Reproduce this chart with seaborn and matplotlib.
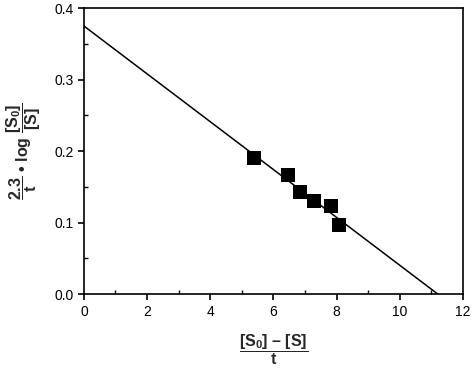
import matplotlib
matplotlib.use("Agg")
import matplotlib.pyplot as plt
import seaborn as sns
import pandas as pd
from matplotlib.ticker import MultipleLocator

# Data
x_vals = [5.38, 6.46, 6.84, 7.28, 7.82, 8.07]
y_vals = [0.190, 0.166, 0.143, 0.130, 0.123, 0.097]
fit_x = [0.0, 11.2]
fit_y = [0.375, 0.0]
x_ticks = [0, 2, 4, 6, 8, 10, 12]
y_ticks = [0.0, 0.1, 0.2, 0.3, 0.4]

sns.set_theme(style="white")
plt.rcParams['font.family'] = ['Liberation Sans', 'DejaVu Sans']
plt.rcParams['mathtext.fontset'] = 'custom'
plt.rcParams['mathtext.rm'] = 'Liberation Sans'
plt.rcParams['mathtext.bf'] = 'Liberation Sans:bold'
plt.rcParams['mathtext.it'] = 'Liberation Sans:italic'

pts = pd.DataFrame({"x": x_vals, "y": y_vals})
fit = pd.DataFrame({"x": fit_x, "y": fit_y})

fig = plt.figure(figsize=(4.74, 3.69), dpi=100)
ax = fig.add_axes([0.177, 0.203, 0.8, 0.775])

sns.lineplot(data=fit, x="x", y="y", ax=ax, color="black", linewidth=1.1)
sns.scatterplot(data=pts, x="x", y="y", ax=ax, marker="s", s=110,
                color="black", edgecolor="black", linewidth=0, zorder=3)

ax.set_xlim(0, 12)
ax.set_ylim(0, 0.4)
ax.set_xticks(x_ticks)
ax.set_yticks(y_ticks)
ax.set_xticklabels([str(v) for v in x_ticks])
ax.set_yticklabels([f"{v:.1f}" for v in y_ticks])
ax.xaxis.set_minor_locator(MultipleLocator(1))
ax.yaxis.set_minor_locator(MultipleLocator(0.05))
ax.tick_params(axis="both", which="major", direction="out", length=4,
               width=1.2, color="black", labelsize=10, labelcolor="black",
               bottom=True, left=True)
ax.tick_params(axis="both", which="minor", direction="in", length=3,
               width=1.0, color="black", bottom=True, left=True)
for sp in ax.spines.values():
    sp.set_color("black")
    sp.set_linewidth(1.2)

ax.set_xlabel(r'$\dfrac{\mathbf{[S_0]\ \endash\ [S]}}{\mathbf{t}}$', fontsize=11.5,
              labelpad=10)
ax.set_ylabel('$\\dfrac{\\mathbf{2.3}}{\\mathbf{t}}\\ \\mathbf{\u2022}\\ \\mathbf{log}\\ \\dfrac{\\mathbf{[S_0]}}{\\mathbf{[S]}}$',
              fontsize=11.5, labelpad=8)

fig.savefig("out.png", dpi=100)
